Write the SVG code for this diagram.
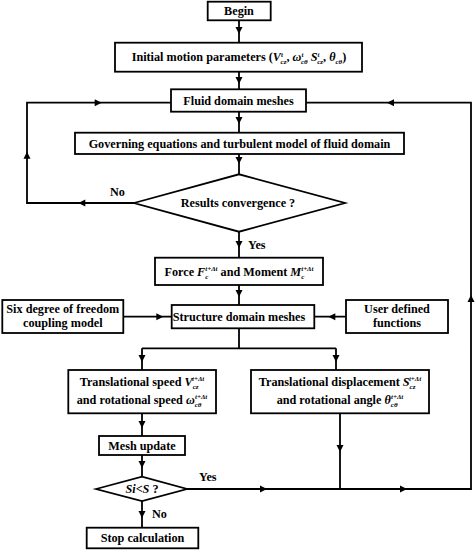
<svg xmlns="http://www.w3.org/2000/svg" xmlns:xlink="http://www.w3.org/1999/xlink" width="476" height="550" viewBox="0 0 476 550">
<style>
.b{fill:#fff;stroke:#000;stroke-width:1.8}
.c{fill:none;stroke:#000;stroke-width:1.8}
.t{font-family:"Liberation Serif","Times New Roman",serif;font-size:12.2px;font-weight:bold;text-anchor:middle;fill:#000}
.l{text-anchor:start}
.i{font-style:italic}
.s{font-size:7px;font-style:italic}
</style>
<defs>
<path id="ah" d="M0 0 L-7 -3.5 L-7 3.5 Z" fill="#000"/>
</defs>
<rect width="476" height="550" fill="#fff"/>
<g id="connectors">
<path class="c" d="M239 20.3 V42.7 M239 71.7 V89.3 M239 111.7 V132.7 M239 154 V174.3 M239 231.7 V257.7 M239 285 V305 M239 328.3 V348.3 M142 348.3 H336 M142 348.3 V370 M336 348.3 V370 M142 413.3 V436 M142 455 V476.7 M142 501 V527.7 M340 413.3 V489 M187 489 H471 V102.7 H306 M134 203 H27 V102.7 H171 M123.3 316.7 H171.7 M346 316.7 H314.3"/>
<use xlink:href="#ah" transform="translate(239,34) rotate(90)"/>
<use xlink:href="#ah" transform="translate(239,84) rotate(90)"/>
<use xlink:href="#ah" transform="translate(239,124) rotate(90)"/>
<use xlink:href="#ah" transform="translate(239,164) rotate(90)"/>
<use xlink:href="#ah" transform="translate(239,248) rotate(90)"/>
<use xlink:href="#ah" transform="translate(239,297) rotate(90)"/>
<use xlink:href="#ah" transform="translate(142,362) rotate(90)"/>
<use xlink:href="#ah" transform="translate(336,362) rotate(90)"/>
<use xlink:href="#ah" transform="translate(142,428) rotate(90)"/>
<use xlink:href="#ah" transform="translate(142,468) rotate(90)"/>
<use xlink:href="#ah" transform="translate(142,518) rotate(90)"/>
<use xlink:href="#ah" transform="translate(340,452) rotate(90)"/>
<use xlink:href="#ah" transform="translate(267,489)"/>
<use xlink:href="#ah" transform="translate(407,489)"/>
<use xlink:href="#ah" transform="translate(471,295) rotate(-90)"/>
<use xlink:href="#ah" transform="translate(387,102.7) rotate(180)"/>
<use xlink:href="#ah" transform="translate(78.3,203) rotate(180)"/>
<use xlink:href="#ah" transform="translate(27,151.7) rotate(-90)"/>
<use xlink:href="#ah" transform="translate(101.7,102.7)"/>
<use xlink:href="#ah" transform="translate(163.3,316.7)"/>
<use xlink:href="#ah" transform="translate(328.3,316.7) rotate(180)"/>
<text class="t l" x="110" y="196">No</text>
<text class="t l" x="248" y="249">Yes</text>
<text class="t l" x="199" y="481">Yes</text>
<text class="t l" x="152" y="518">No</text>
</g>
<g id="begin">
<rect class="b" x="207.7" y="1.7" width="63" height="18.6"/>
<text class="t" x="239" y="15">Begin</text>
</g>
<g id="initial">
<rect class="b" x="115" y="42.7" width="247" height="29"/>
<text class="t" x="239" y="61">Initial motion parameters (<tspan class="i">V</tspan><tspan class="s" dy="-4">t</tspan><tspan class="s" dx="-2.3" dy="7">cz</tspan><tspan dy="-3">, </tspan><tspan class="i">ω</tspan><tspan class="s" dy="-4">t</tspan><tspan class="s" dx="-2.3" dy="7">cθ</tspan><tspan dy="-3"> </tspan><tspan class="i">S</tspan><tspan class="s" dy="-4">t</tspan><tspan class="s" dx="-2.3" dy="7">cz</tspan><tspan dy="-3">, </tspan><tspan class="i">θ</tspan><tspan class="s" dy="3">cθ</tspan><tspan dy="-3">)</tspan></text>
</g>
<g id="fluid">
<rect class="b" x="171" y="89.3" width="135" height="22.4"/>
<text class="t" x="238.5" y="105">Fluid domain meshes</text>
</g>
<g id="governing">
<rect class="b" x="75" y="132.7" width="329" height="21.3"/>
<text class="t" x="239.5" y="147.5">Governing equations and turbulent model of fluid domain</text>
</g>
<g id="convergence">
<path class="b" d="M134 203 L239 174.3 L345 203 L239 231.7 Z"/>
<text class="t" x="238" y="207">Results convergence ?</text>
</g>
<g id="force">
<rect class="b" x="155" y="257.7" width="168" height="27.3"/>
<text class="t" x="239" y="275.5">Force <tspan class="i">F</tspan><tspan class="s" dy="3">c</tspan><tspan class="s" dx="-3.1" dy="-8">t+Δt</tspan><tspan dy="5"> and Moment </tspan><tspan class="i">M</tspan><tspan class="s" dy="3">c</tspan><tspan class="s" dx="-3.1" dy="-8">t+Δt</tspan></text>
</g>
<g id="structure">
<rect class="b" x="171.7" y="305" width="142.6" height="23.3"/>
<text class="t" x="239" y="321">Structure domain meshes</text>
</g>
<g id="sixdof">
<rect class="b" x="2.3" y="300" width="121" height="33"/>
<text class="t" x="62.8" y="313">Six degree of freedom</text>
<text class="t" x="62.8" y="326.5">coupling model</text>
</g>
<g id="udf">
<rect class="b" x="346" y="300" width="102" height="33"/>
<text class="t" x="397" y="313">User defined</text>
<text class="t" x="397" y="326.5">functions</text>
</g>
<g id="speed">
<rect class="b" x="68.3" y="370" width="147.7" height="43.3"/>
<text class="t" x="142" y="386">Translational speed <tspan class="i">V</tspan><tspan class="s" dy="3">cz</tspan><tspan class="s" dx="-6.5" dy="-8">t+Δt</tspan></text>
<text class="t" x="142" y="404">and rotational speed <tspan class="i">ω</tspan><tspan class="s" dy="3">cθ</tspan><tspan class="s" dx="-6.5" dy="-8">t+Δt</tspan></text>
</g>
<g id="displacement">
<rect class="b" x="251" y="370" width="178" height="43.3"/>
<text class="t" x="340" y="386">Translational displacement <tspan class="i">S</tspan><tspan class="s" dy="3">cz</tspan><tspan class="s" dx="-6.5" dy="-8">t+Δt</tspan></text>
<text class="t" x="340" y="404">and rotational angle <tspan class="i">θ</tspan><tspan class="s" dy="3">cθ</tspan><tspan class="s" dx="-6.5" dy="-8">t+Δt</tspan></text>
</g>
<g id="mesh">
<rect class="b" x="99" y="436" width="86" height="19"/>
<text class="t" x="142" y="450">Mesh update</text>
</g>
<g id="check">
<path class="b" d="M96 489 L142 476.7 L187 489 L142 501 Z"/>
<text class="t" x="142" y="493"><tspan class="i">Si&lt;S</tspan> ?</text>
</g>
<g id="stop">
<rect class="b" x="86.7" y="527.7" width="111.6" height="20.6"/>
<text class="t" x="142.5" y="542">Stop calculation</text>
</g>
</svg>
